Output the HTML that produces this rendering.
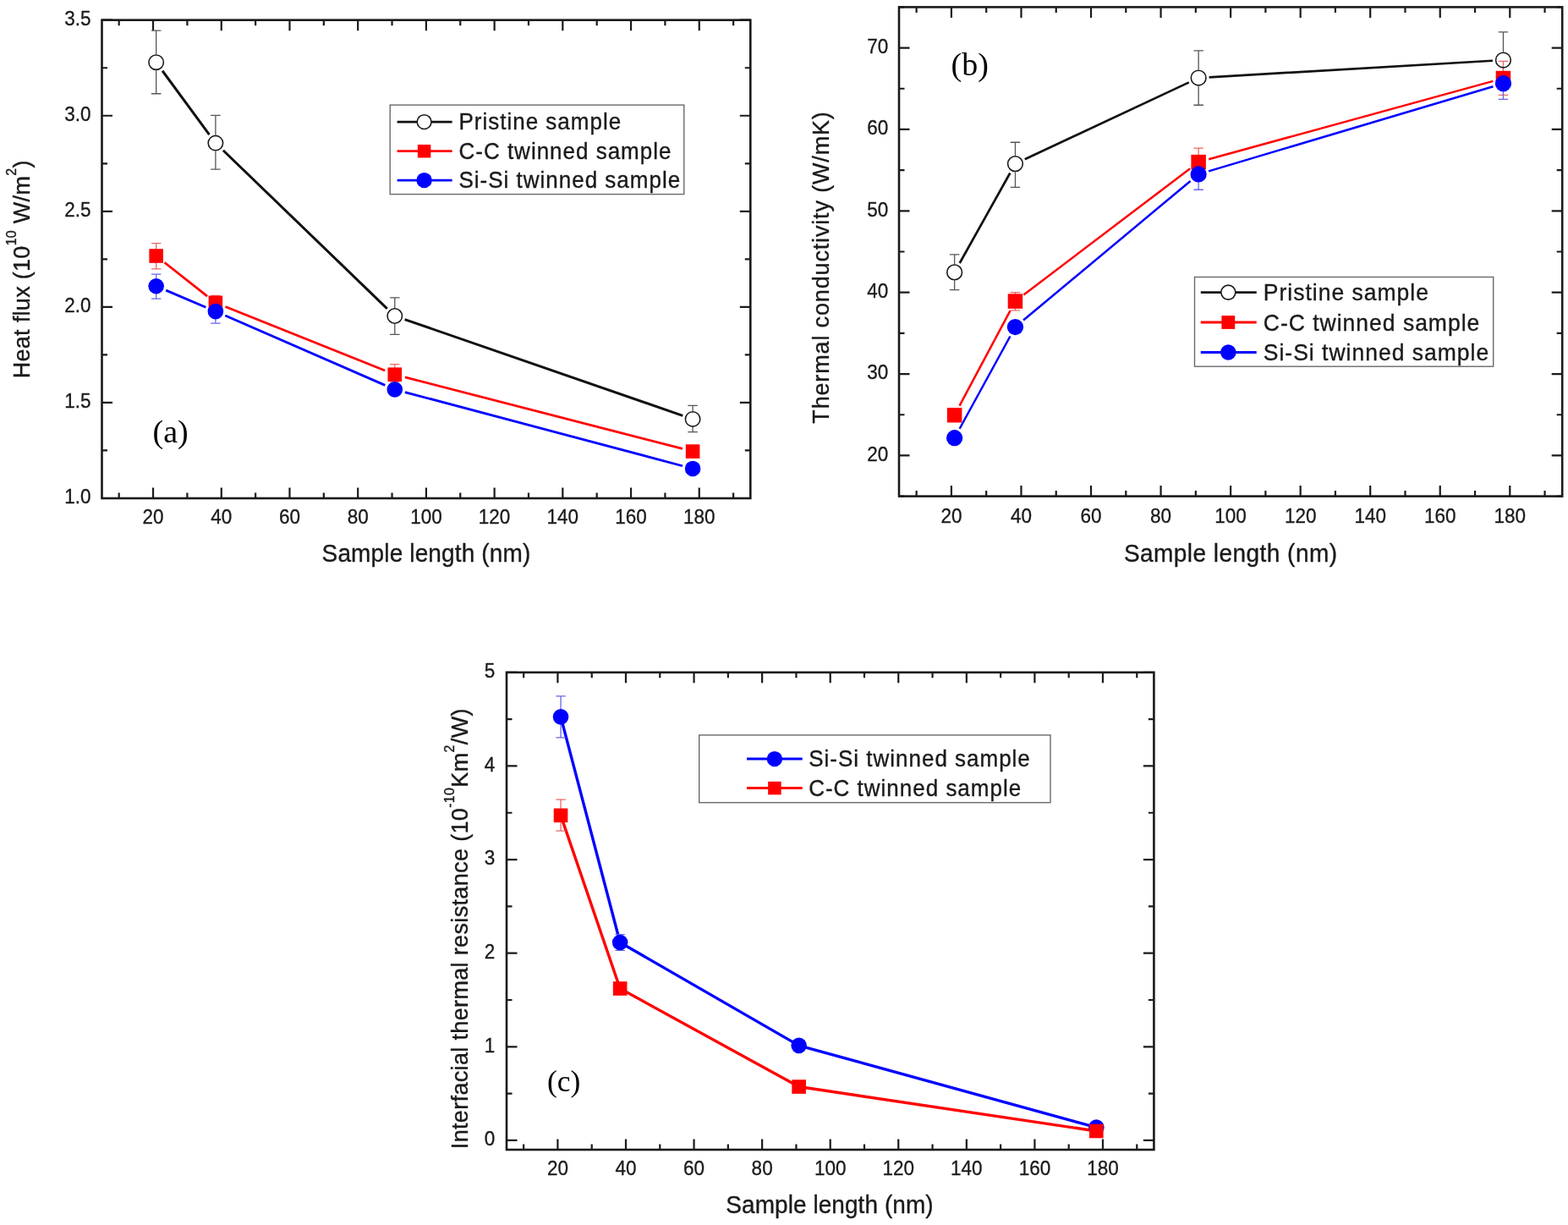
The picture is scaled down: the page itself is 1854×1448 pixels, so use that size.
<!DOCTYPE html>
<html><head><meta charset="utf-8"><title>Figure</title>
<style>html,body{margin:0;padding:0;background:#fff;}svg{display:block;}text.s{stroke:#1a1a1a;stroke-width:0.35px;}</style>
</head><body>
<svg width="1854" height="1448" viewBox="0 0 1854 1448">
<rect width="1854" height="1448" fill="#fff"/>
<path d="M181.04 589V576.5 M181.04 23.7V36.2 M261.75 589V576.5 M261.75 23.7V36.2 M342.47 589V576.5 M342.47 23.7V36.2 M423.18 589V576.5 M423.18 23.7V36.2 M503.9 589V576.5 M503.9 23.7V36.2 M584.62 589V576.5 M584.62 23.7V36.2 M665.33 589V576.5 M665.33 23.7V36.2 M746.05 589V576.5 M746.05 23.7V36.2 M826.76 589V576.5 M826.76 23.7V36.2 M140.68 589V582.5 M140.68 23.7V30.2 M221.39 589V582.5 M221.39 23.7V30.2 M302.11 589V582.5 M302.11 23.7V30.2 M382.83 589V582.5 M382.83 23.7V30.2 M463.54 589V582.5 M463.54 23.7V30.2 M544.26 589V582.5 M544.26 23.7V30.2 M624.97 589V582.5 M624.97 23.7V30.2 M705.69 589V582.5 M705.69 23.7V30.2 M786.41 589V582.5 M786.41 23.7V30.2 M867.12 589V582.5 M867.12 23.7V30.2 M120.5 589H133 M887.3 589H874.8 M120.5 475.94H133 M887.3 475.94H874.8 M120.5 362.88H133 M887.3 362.88H874.8 M120.5 249.82H133 M887.3 249.82H874.8 M120.5 136.76H133 M887.3 136.76H874.8 M120.5 23.7H133 M887.3 23.7H874.8 M120.5 532.47H127 M887.3 532.47H880.8 M120.5 419.41H127 M887.3 419.41H880.8 M120.5 306.35H127 M887.3 306.35H880.8 M120.5 193.29H127 M887.3 193.29H880.8 M120.5 80.23H127 M887.3 80.23H880.8" stroke="#1a1a1a" stroke-width="2.2" fill="none"/>
<rect x="120.5" y="23.7" width="766.8" height="565.3" stroke="#1a1a1a" stroke-width="2.6" fill="none"/>
<g class="t" font-family="'Liberation Sans', Arial, sans-serif" font-size="22.5" fill="#1a1a1a" stroke="#1a1a1a" stroke-width="0.3"><text transform="translate(181.04 619.1) scale(1 1.07)" text-anchor="middle">20</text><text transform="translate(261.75 619.1) scale(1 1.07)" text-anchor="middle">40</text><text transform="translate(342.47 619.1) scale(1 1.07)" text-anchor="middle">60</text><text transform="translate(423.18 619.1) scale(1 1.07)" text-anchor="middle">80</text><text transform="translate(503.9 619.1) scale(1 1.07)" text-anchor="middle">100</text><text transform="translate(584.62 619.1) scale(1 1.07)" text-anchor="middle">120</text><text transform="translate(665.33 619.1) scale(1 1.07)" text-anchor="middle">140</text><text transform="translate(746.05 619.1) scale(1 1.07)" text-anchor="middle">160</text><text transform="translate(826.76 619.1) scale(1 1.07)" text-anchor="middle">180</text><text transform="translate(107.5 595.2) scale(1 1.07)" text-anchor="end">1.0</text><text transform="translate(107.5 482.14) scale(1 1.07)" text-anchor="end">1.5</text><text transform="translate(107.5 369.08) scale(1 1.07)" text-anchor="end">2.0</text><text transform="translate(107.5 256.02) scale(1 1.07)" text-anchor="end">2.5</text><text transform="translate(107.5 142.96) scale(1 1.07)" text-anchor="end">3.0</text><text transform="translate(107.5 29.9) scale(1 1.07)" text-anchor="end">3.5</text></g>
<path d="M192.08 83.74L247.48 159.03 M263.89 177.77L457.77 364.83 M478.58 377.59L807.28 491.3" stroke="#111" stroke-width="3.0" fill="none" stroke-linecap="butt"/>
<path d="M194.48 310.25L245.08 350.16 M266.5 362.55L455.17 438.06 M478.87 445.82L806.99 530.48" stroke="#f00" stroke-width="2.8" fill="none" stroke-linecap="butt"/>
<path d="M196.17 343.12L243.39 363.19 M266.35 373.07L455.31 455.35 M478.85 463.55L807.01 550.74" stroke="#00f" stroke-width="2.8" fill="none" stroke-linecap="butt"/>
<path d="M184.67 36.14V64.17 M184.67 83.17V110.76 M178.92 36.14H190.42 M178.92 110.76H190.42 M254.89 136.31V159.6 M254.89 178.6V200.07 M249.14 136.31H260.64 M249.14 200.07H260.64 M466.77 351.8V364.01 M466.77 383.01V395.44 M461.02 351.8H472.52 M461.02 395.44H472.52 M819.1 479.33V485.89 M819.1 504.89V510.54 M813.35 479.33H824.85 M813.35 510.54H824.85" stroke="#555" stroke-width="1.3" fill="none"/>
<path d="M184.67 287.58V317.88 M178.92 287.58H190.42 M178.92 317.88H190.42 M254.89 349.31V367.4 M249.14 349.31H260.64 M249.14 367.4H260.64 M466.77 430.72V451.07 M461.02 430.72H472.52 M461.02 451.07H472.52" stroke="#e66" stroke-width="1.3" fill="none"/>
<path d="M184.67 324.21V353.16 M178.92 324.21H190.42 M178.92 353.16H190.42 M254.89 358.36V382.1 M249.14 358.36H260.64 M249.14 382.1H260.64 M466.77 455.59V464.63 M461.02 455.59H472.52 M461.02 464.63H472.52" stroke="#66e" stroke-width="1.3" fill="none"/>
<circle cx="184.67" cy="73.67" r="8.7" fill="none" stroke="#1a1a1a" stroke-width="1.6"/>
<circle cx="254.89" cy="169.1" r="8.7" fill="none" stroke="#1a1a1a" stroke-width="1.6"/>
<circle cx="466.77" cy="373.51" r="8.7" fill="none" stroke="#1a1a1a" stroke-width="1.6"/>
<circle cx="819.1" cy="495.39" r="8.7" fill="none" stroke="#1a1a1a" stroke-width="1.6"/>
<rect x="176.37" y="294.21" width="16.6" height="16.6" fill="#f00"/>
<rect x="246.59" y="349.61" width="16.6" height="16.6" fill="#f00"/>
<rect x="458.47" y="434.4" width="16.6" height="16.6" fill="#f00"/>
<rect x="810.8" y="525.3" width="16.6" height="16.6" fill="#f00"/>
<circle cx="184.67" cy="338.23" r="9.3" fill="#00f"/>
<circle cx="254.89" cy="368.08" r="9.3" fill="#00f"/>
<circle cx="466.77" cy="460.34" r="9.3" fill="#00f"/>
<circle cx="819.1" cy="553.95" r="9.3" fill="#00f"/>
<rect x="461.2" y="124.1" width="347.6" height="105.5" fill="#fff" stroke="#6a6a6a" stroke-width="1.4"/>
<path d="M469.6 144.1H534.6" stroke="#111" stroke-width="2.8"/>
<circle cx="501.6" cy="144.1" r="8.4" fill="#fff" stroke="#1a1a1a" stroke-width="1.6"/>
<text class="s" transform="translate(542.5 153.46) scale(1 1.05)" font-family="'Liberation Sans', Arial, sans-serif" font-size="26" letter-spacing="1.0" fill="#1a1a1a">Pristine sample</text>
<path d="M469.6 178.7H534.6" stroke="#f00" stroke-width="2.8"/>
<rect x="493.85" y="170.95" width="15.5" height="15.5" fill="#f00"/>
<text class="s" transform="translate(542.5 188.06) scale(1 1.05)" font-family="'Liberation Sans', Arial, sans-serif" font-size="26" letter-spacing="1.0" fill="#1a1a1a">C-C twinned sample</text>
<path d="M469.6 213.1H534.6" stroke="#00f" stroke-width="2.8"/>
<circle cx="501.6" cy="213.1" r="9.2" fill="#00f"/>
<text class="s" transform="translate(542.5 222.46) scale(1 1.05)" font-family="'Liberation Sans', Arial, sans-serif" font-size="26" letter-spacing="1.0" fill="#1a1a1a">Si-Si twinned sample</text>
<text x="180.5" y="522.7" font-family="'Liberation Serif', 'Times New Roman', serif" font-size="38">(a)</text>
<text transform="translate(504 664.2) scale(1 1.05)" class="s" text-anchor="middle" font-family="'Liberation Sans', Arial, sans-serif" font-size="28" letter-spacing="0.15" fill="#1a1a1a">Sample length (nm)</text>
<text transform="translate(34.8 318.3) rotate(-90) scale(1 1.05)" class="s" text-anchor="middle" font-family="'Liberation Sans', Arial, sans-serif" font-size="27" letter-spacing="0.3" fill="#1a1a1a">Heat flux (10<tspan dy="-14.6" font-size="16">10</tspan><tspan dy="14.6"> W/m</tspan><tspan dy="-14.6" font-size="16">2</tspan><tspan dy="14.6">)</tspan></text>
<path d="M1124.91 586.6V574.1 M1124.91 8.4V20.9 M1207.46 586.6V574.1 M1207.46 8.4V20.9 M1290.01 586.6V574.1 M1290.01 8.4V20.9 M1372.55 586.6V574.1 M1372.55 8.4V20.9 M1455.1 586.6V574.1 M1455.1 8.4V20.9 M1537.65 586.6V574.1 M1537.65 8.4V20.9 M1620.19 586.6V574.1 M1620.19 8.4V20.9 M1702.74 586.6V574.1 M1702.74 8.4V20.9 M1785.29 586.6V574.1 M1785.29 8.4V20.9 M1083.64 586.6V580.1 M1083.64 8.4V14.9 M1166.18 586.6V580.1 M1166.18 8.4V14.9 M1248.73 586.6V580.1 M1248.73 8.4V14.9 M1331.28 586.6V580.1 M1331.28 8.4V14.9 M1413.83 586.6V580.1 M1413.83 8.4V14.9 M1496.37 586.6V580.1 M1496.37 8.4V14.9 M1578.92 586.6V580.1 M1578.92 8.4V14.9 M1661.47 586.6V580.1 M1661.47 8.4V14.9 M1744.02 586.6V580.1 M1744.02 8.4V14.9 M1826.56 586.6V580.1 M1826.56 8.4V14.9 M1063 538.42H1075.5 M1847.2 538.42H1834.7 M1063 442.05H1075.5 M1847.2 442.05H1834.7 M1063 345.68H1075.5 M1847.2 345.68H1834.7 M1063 249.32H1075.5 M1847.2 249.32H1834.7 M1063 152.95H1075.5 M1847.2 152.95H1834.7 M1063 56.58H1075.5 M1847.2 56.58H1834.7 M1063 586.6H1069.5 M1847.2 586.6H1840.7 M1063 490.23H1069.5 M1847.2 490.23H1840.7 M1063 393.87H1069.5 M1847.2 393.87H1840.7 M1063 297.5H1069.5 M1847.2 297.5H1840.7 M1063 201.13H1069.5 M1847.2 201.13H1840.7 M1063 104.77H1069.5 M1847.2 104.77H1840.7 M1063 8.4H1069.5 M1847.2 8.4H1840.7" stroke="#1a1a1a" stroke-width="2.2" fill="none"/>
<rect x="1063" y="8.4" width="784.2" height="578.2" stroke="#1a1a1a" stroke-width="2.6" fill="none"/>
<g class="t" font-family="'Liberation Sans', Arial, sans-serif" font-size="22.5" fill="#1a1a1a" stroke="#1a1a1a" stroke-width="0.3"><text transform="translate(1124.91 617.6) scale(1 1.07)" text-anchor="middle">20</text><text transform="translate(1207.46 617.6) scale(1 1.07)" text-anchor="middle">40</text><text transform="translate(1290.01 617.6) scale(1 1.07)" text-anchor="middle">60</text><text transform="translate(1372.55 617.6) scale(1 1.07)" text-anchor="middle">80</text><text transform="translate(1455.1 617.6) scale(1 1.07)" text-anchor="middle">100</text><text transform="translate(1537.65 617.6) scale(1 1.07)" text-anchor="middle">120</text><text transform="translate(1620.19 617.6) scale(1 1.07)" text-anchor="middle">140</text><text transform="translate(1702.74 617.6) scale(1 1.07)" text-anchor="middle">160</text><text transform="translate(1785.29 617.6) scale(1 1.07)" text-anchor="middle">180</text><text transform="translate(1050.2 544.62) scale(1 1.07)" text-anchor="end">20</text><text transform="translate(1050.2 448.25) scale(1 1.07)" text-anchor="end">30</text><text transform="translate(1050.2 351.88) scale(1 1.07)" text-anchor="end">40</text><text transform="translate(1050.2 255.52) scale(1 1.07)" text-anchor="end">50</text><text transform="translate(1050.2 159.15) scale(1 1.07)" text-anchor="end">60</text><text transform="translate(1050.2 62.78) scale(1 1.07)" text-anchor="end">70</text></g>
<path d="M1134.73 310.97L1194.33 204.52 M1211.76 188.31L1405.81 97.35 M1429.61 91.32L1764.97 71.77" stroke="#111" stroke-width="2.7" fill="none" stroke-linecap="butt"/>
<path d="M1134.51 479.69L1194.56 367.12 M1210.4 348.53L1407.17 199.15 M1429.18 188.28L1765.39 95.84" stroke="#f00" stroke-width="2.5" fill="none" stroke-linecap="butt"/>
<path d="M1134.63 506.73L1194.44 397.51 M1210.04 378.54L1407.53 213.95 M1429.11 202.39L1765.47 102.26" stroke="#00f" stroke-width="2.5" fill="none" stroke-linecap="butt"/>
<path d="M1128.63 300.78V312.23 M1128.63 331.53V342.6 M1122.88 300.78H1134.38 M1122.88 342.6H1134.38 M1200.44 168.27V183.97 M1200.44 203.27V221.37 M1194.69 168.27H1206.19 M1194.69 221.37H1206.19 M1417.13 59.96V82.4 M1417.13 101.7V124.23 M1411.38 59.96H1422.88 M1411.38 124.23H1422.88 M1777.45 37.79V61.39 M1777.45 80.69V104.77 M1771.7 37.79H1783.2 M1771.7 104.77H1783.2" stroke="#555" stroke-width="1.3" fill="none"/>
<path d="M1200.44 345.68V366.88 M1194.69 345.68H1206.19 M1194.69 366.88H1206.19 M1417.13 175.11V207.88 M1411.38 175.11H1422.88 M1411.38 207.88H1422.88 M1777.45 72.39V112.28 M1771.7 72.39H1783.2 M1771.7 112.28H1783.2" stroke="#e66" stroke-width="1.3" fill="none"/>
<path d="M1417.13 196.31V224.26 M1411.38 196.31H1422.88 M1411.38 224.26H1422.88 M1777.45 90.31V117.29 M1771.7 90.31H1783.2 M1771.7 117.29H1783.2" stroke="#66e" stroke-width="1.3" fill="none"/>
<circle cx="1128.63" cy="321.88" r="8.85" fill="none" stroke="#1a1a1a" stroke-width="1.6"/>
<circle cx="1200.44" cy="193.62" r="8.85" fill="none" stroke="#1a1a1a" stroke-width="1.6"/>
<circle cx="1417.13" cy="92.05" r="8.85" fill="none" stroke="#1a1a1a" stroke-width="1.6"/>
<circle cx="1777.45" cy="71.04" r="8.85" fill="none" stroke="#1a1a1a" stroke-width="1.6"/>
<rect x="1119.88" y="481.97" width="17.5" height="17.5" fill="#f00"/>
<rect x="1191.69" y="347.34" width="17.5" height="17.5" fill="#f00"/>
<rect x="1408.38" y="182.84" width="17.5" height="17.5" fill="#f00"/>
<rect x="1768.7" y="83.78" width="17.5" height="17.5" fill="#f00"/>
<circle cx="1128.63" cy="517.7" r="9.65" fill="#00f"/>
<circle cx="1200.44" cy="386.54" r="9.65" fill="#00f"/>
<circle cx="1417.13" cy="205.95" r="9.65" fill="#00f"/>
<circle cx="1777.45" cy="98.7" r="9.65" fill="#00f"/>
<rect x="1412.5" y="327.5" width="353.2" height="105.7" fill="#fff" stroke="#6a6a6a" stroke-width="1.4"/>
<path d="M1419.8 345.6H1485.7" stroke="#111" stroke-width="2.8"/>
<circle cx="1452.3" cy="345.6" r="8.5" fill="#fff" stroke="#1a1a1a" stroke-width="1.6"/>
<text class="s" transform="translate(1493.8 355.14) scale(1 1.05)" font-family="'Liberation Sans', Arial, sans-serif" font-size="26.5" letter-spacing="1.0" fill="#1a1a1a">Pristine sample</text>
<path d="M1419.8 381H1485.7" stroke="#f00" stroke-width="2.8"/>
<rect x="1444.4" y="373.1" width="15.8" height="15.8" fill="#f00"/>
<text class="s" transform="translate(1493.8 390.54) scale(1 1.05)" font-family="'Liberation Sans', Arial, sans-serif" font-size="26.5" letter-spacing="1.0" fill="#1a1a1a">C-C twinned sample</text>
<path d="M1419.8 416.5H1485.7" stroke="#00f" stroke-width="2.8"/>
<circle cx="1452.3" cy="416.5" r="9.3" fill="#00f"/>
<text class="s" transform="translate(1493.8 426.04) scale(1 1.05)" font-family="'Liberation Sans', Arial, sans-serif" font-size="26.5" letter-spacing="1.0" fill="#1a1a1a">Si-Si twinned sample</text>
<text x="1124.6" y="89.3" font-family="'Liberation Serif', 'Times New Roman', serif" font-size="38">(b)</text>
<text transform="translate(1455.2 664) scale(1 1.05)" class="s" text-anchor="middle" font-family="'Liberation Sans', Arial, sans-serif" font-size="28" letter-spacing="0.47" fill="#1a1a1a">Sample length (nm)</text>
<text transform="translate(979.8 316) rotate(-90) scale(1 1.05)" class="s" text-anchor="middle" font-family="'Liberation Sans', Arial, sans-serif" font-size="27" letter-spacing="0.85" fill="#1a1a1a">Thermal conductivity (W/mK)</text>
<path d="M659.43 1359V1346.5 M659.43 794.8V807.3 M739.99 1359V1346.5 M739.99 794.8V807.3 M820.56 1359V1346.5 M820.56 794.8V807.3 M901.13 1359V1346.5 M901.13 794.8V807.3 M981.7 1359V1346.5 M981.7 794.8V807.3 M1062.27 1359V1346.5 M1062.27 794.8V807.3 M1142.84 1359V1346.5 M1142.84 794.8V807.3 M1223.41 1359V1346.5 M1223.41 794.8V807.3 M1303.97 1359V1346.5 M1303.97 794.8V807.3 M619.14 1359V1352.5 M619.14 794.8V801.3 M699.71 1359V1352.5 M699.71 794.8V801.3 M780.28 1359V1352.5 M780.28 794.8V801.3 M860.85 1359V1352.5 M860.85 794.8V801.3 M941.42 1359V1352.5 M941.42 794.8V801.3 M1021.98 1359V1352.5 M1021.98 794.8V801.3 M1102.55 1359V1352.5 M1102.55 794.8V801.3 M1183.12 1359V1352.5 M1183.12 794.8V801.3 M1263.69 1359V1352.5 M1263.69 794.8V801.3 M1344.26 1359V1352.5 M1344.26 794.8V801.3 M599 1347.94H611.5 M1364.4 1347.94H1351.9 M599 1237.31H611.5 M1364.4 1237.31H1351.9 M599 1126.68H611.5 M1364.4 1126.68H1351.9 M599 1016.05H611.5 M1364.4 1016.05H1351.9 M599 905.43H611.5 M1364.4 905.43H1351.9 M599 794.8H611.5 M1364.4 794.8H1351.9 M599 1292.62H605.5 M1364.4 1292.62H1357.9 M599 1182H605.5 M1364.4 1182H1357.9 M599 1071.37H605.5 M1364.4 1071.37H1357.9 M599 960.74H605.5 M1364.4 960.74H1357.9 M599 850.11H605.5 M1364.4 850.11H1357.9" stroke="#1a1a1a" stroke-width="2.2" fill="none"/>
<rect x="599" y="794.8" width="765.4" height="564.2" stroke="#1a1a1a" stroke-width="2.6" fill="none"/>
<g class="t" font-family="'Liberation Sans', Arial, sans-serif" font-size="22.5" fill="#1a1a1a" stroke="#1a1a1a" stroke-width="0.3"><text transform="translate(659.43 1388.6) scale(1 1.07)" text-anchor="middle">20</text><text transform="translate(739.99 1388.6) scale(1 1.07)" text-anchor="middle">40</text><text transform="translate(820.56 1388.6) scale(1 1.07)" text-anchor="middle">60</text><text transform="translate(901.13 1388.6) scale(1 1.07)" text-anchor="middle">80</text><text transform="translate(981.7 1388.6) scale(1 1.07)" text-anchor="middle">100</text><text transform="translate(1062.27 1388.6) scale(1 1.07)" text-anchor="middle">120</text><text transform="translate(1142.84 1388.6) scale(1 1.07)" text-anchor="middle">140</text><text transform="translate(1223.41 1388.6) scale(1 1.07)" text-anchor="middle">160</text><text transform="translate(1303.97 1388.6) scale(1 1.07)" text-anchor="middle">180</text><text transform="translate(585.3 1354.14) scale(1 1.07)" text-anchor="end">0</text><text transform="translate(585.3 1243.51) scale(1 1.07)" text-anchor="end">1</text><text transform="translate(585.3 1132.88) scale(1 1.07)" text-anchor="end">2</text><text transform="translate(585.3 1022.25) scale(1 1.07)" text-anchor="end">3</text><text transform="translate(585.3 911.63) scale(1 1.07)" text-anchor="end">4</text><text transform="translate(585.3 801) scale(1 1.07)" text-anchor="end">5</text></g>
<path d="M663.05 847.35L733.15 1113.96 M733.15 1113.96L944.64 1235.87 M944.64 1235.87L1296.32 1332.67" stroke="#00f" stroke-width="3.4" fill="none" stroke-linecap="butt"/>
<path d="M663.05 963.84L733.15 1168.5 M733.15 1168.5L944.64 1284.55 M944.64 1284.55L1296.32 1336.99" stroke="#f00" stroke-width="3.4" fill="none" stroke-linecap="butt"/>
<path d="M663.05 822.79V871.8 M657.3 822.79H668.8 M657.3 871.8H668.8 M733.15 1104.56V1123.36 M727.4 1104.56H738.9 M727.4 1123.36H738.9" stroke="#66e" stroke-width="1.3" fill="none"/>
<path d="M663.05 945.03V982.2 M657.3 945.03H668.8 M657.3 982.2H668.8" stroke="#e66" stroke-width="1.3" fill="none"/>
<circle cx="663.05" cy="847.35" r="9.3" fill="#00f"/>
<circle cx="733.15" cy="1113.96" r="9.3" fill="#00f"/>
<circle cx="944.64" cy="1235.87" r="9.3" fill="#00f"/>
<circle cx="1296.32" cy="1332.67" r="9.3" fill="#00f"/>
<rect x="654.75" y="955.54" width="16.6" height="16.6" fill="#f00"/>
<rect x="724.85" y="1160.2" width="16.6" height="16.6" fill="#f00"/>
<rect x="936.34" y="1276.25" width="16.6" height="16.6" fill="#f00"/>
<rect x="1288.02" y="1328.69" width="16.6" height="16.6" fill="#f00"/>
<rect x="826.7" y="868.9" width="415.3" height="79.8" fill="#fff" stroke="#6a6a6a" stroke-width="1.4"/>
<path d="M883 897.1H948.7" stroke="#00f" stroke-width="3.0"/>
<circle cx="915.9" cy="897.1" r="9.2" fill="#00f"/>
<text class="s" transform="translate(956.2 906.46) scale(1 1.05)" font-family="'Liberation Sans', Arial, sans-serif" font-size="26" letter-spacing="1.0" fill="#1a1a1a">Si-Si twinned sample</text>
<path d="M883 931.6H948.7" stroke="#f00" stroke-width="3.0"/>
<rect x="908.15" y="923.85" width="15.5" height="15.5" fill="#f00"/>
<text class="s" transform="translate(956.2 940.96) scale(1 1.05)" font-family="'Liberation Sans', Arial, sans-serif" font-size="26" letter-spacing="1.0" fill="#1a1a1a">C-C twinned sample</text>
<text x="647" y="1289.8" font-family="'Liberation Serif', 'Times New Roman', serif" font-size="35.5">(c)</text>
<text transform="translate(981 1434) scale(1 1.05)" class="s" text-anchor="middle" font-family="'Liberation Sans', Arial, sans-serif" font-size="28" letter-spacing="0.07" fill="#1a1a1a">Sample length (nm)</text>
<text transform="translate(552.5 1097.7) rotate(-90) scale(1 1.05)" class="s" text-anchor="middle" font-family="'Liberation Sans', Arial, sans-serif" font-size="27" letter-spacing="0.35" fill="#1a1a1a">Interfacial thermal resistance (10<tspan dy="-15.2" font-size="16">-10</tspan><tspan dy="15.2">Km</tspan><tspan dy="-15.2" font-size="16">2</tspan><tspan dy="15.2">/W)</tspan></text>
</svg>
</body></html>
